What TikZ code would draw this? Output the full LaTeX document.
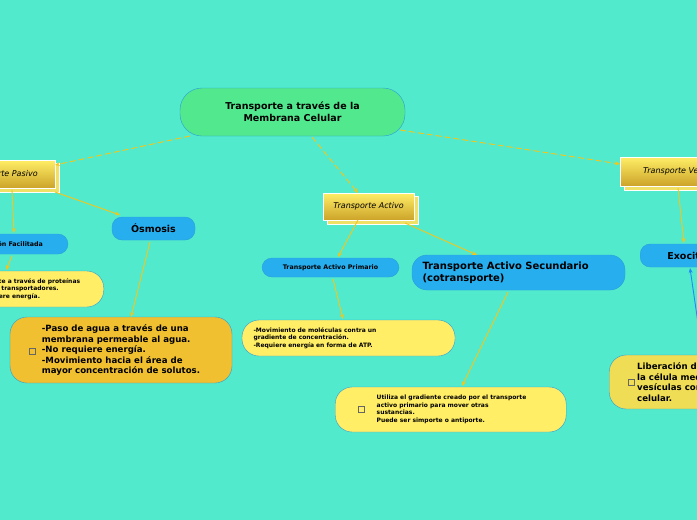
\documentclass[tikz,border=0pt]{standalone}
\usepackage{fontspec}
\setmainfont{DejaVu Sans}
\usetikzlibrary{arrows.meta}
\definecolor{bg}{HTML}{52EACD}
\definecolor{ttl}{HTML}{52E88E}
\definecolor{pill}{HTML}{27AEEF}
\definecolor{pale}{HTML}{FFEE66}
\definecolor{gold}{HTML}{F0C030}
\definecolor{lgold}{HTML}{EEDD55}
\definecolor{edg}{HTML}{F5C518}
\definecolor{bord}{HTML}{2A9FD8}
\tikzset{
 pillbox/.style={draw=bord,fill=pill,rounded corners=10pt,font=\bfseries,inner sep=0pt},
 notebox/.style={draw=bord,rounded corners=17pt,font=\bfseries,inner sep=0pt},
 topicbox/.style={draw=white,line width=1pt,top color=pale,bottom color=gold!85!black,font=\itshape\fontsize{8}{10}\selectfont,inner sep=0pt},
 shadowbox/.style={draw=white,fill=lgold!90!white,line width=1pt},
 link/.style={draw=edg,line width=0.9pt,-{Stealth[length=5pt,width=4pt]}},
 dlink/.style={link,dash pattern=on 6pt off 3pt},
 chk/.style={draw=black!60,line width=0.6pt,minimum size=6pt,inner sep=0pt}
}
\begin{document}
\begin{tikzpicture}[x=1pt,y=-1pt]
\clip (0,0) rectangle (697,520);
\fill[bg] (0,0) rectangle (697,520);
% title
\node[draw=bord,fill=ttl,rounded corners=22pt,minimum width=225pt,minimum height=48pt,font=\bfseries\fontsize{9.5}{11.5}\selectfont,align=center] (t) at (292.5,112) {Transporte a través de la\\Membrana Celular};
% topics
\fill[shadowbox] (-47,163) rectangle (59,192);
\node[topicbox,minimum width=106pt,minimum height=28pt] (pas) at (2,174) {Transporte Pasivo};
\fill[shadowbox] (327,196) rectangle (418,224);
\node[topicbox,minimum width=91pt,minimum height=27pt] (act) at (368.5,206.5) {Transporte Activo};
\fill[shadowbox] (624,160) rectangle (740,190);
\node[topicbox,minimum width=116pt,minimum height=29pt,anchor=west] (ves) at (620,171.5) {\hspace{11pt}Transporte Vesicular\hspace*{\fill}};
% pills
\node[pillbox,minimum width=83pt,minimum height=23pt,font=\bfseries\fontsize{9.5}{11}\selectfont] (osm) at (153.5,228.5) {Ósmosis};
\node[pillbox,minimum width=116pt,minimum height=20pt,font=\bfseries\fontsize{6.3}{7}\selectfont] (fac) at (10,244) {Difusión Facilitada};
\node[pillbox,minimum width=137pt,minimum height=19pt,font=\bfseries\fontsize{6.3}{7}\selectfont] (pri) at (330.5,267.5) {Transporte Activo Primario};
\node[pillbox,minimum width=213pt,minimum height=35pt,rounded corners=15pt,font=\bfseries\fontsize{10}{12}\selectfont,align=left,text width=192pt] (sec) at (518.5,272.5) {Transporte Activo Secundario\\(cotransporte)};
\node[pillbox,minimum width=90pt,minimum height=23pt,font=\bfseries\fontsize{9.5}{11}\selectfont,anchor=west] (exo) at (640,255.5) {\hspace{18pt}Exocitosis\hspace*{\fill}};
% notes
\node[notebox,fill=pale,minimum width=160pt,minimum height=36pt,font=\bfseries\fontsize{6}{7.5}\selectfont,align=left,anchor=east] (fn) at (104,289) {-Transporte a través de proteínas\\canales o transportadores.\\-No requiere energía.\hspace{60pt}};
\node[notebox,fill=gold,minimum width=222pt,minimum height=66pt,font=\bfseries\fontsize{8.6}{10.5}\selectfont,align=left] (on) at (121,350) {-Paso de agua a través de una\\membrana permeable al agua.\\-No requiere energía.\\-Movimiento hacia el área de\\mayor concentración de solutos.};
\node[chk] at (32,351) {};
\node[notebox,fill=pale,minimum width=213pt,minimum height=36pt,font=\bfseries\fontsize{6}{7.5}\selectfont,align=left,text width=190pt] (pn) at (348.5,338) {-Movimiento de moléculas contra un\\gradiente de concentración.\\-Requiere energía en forma de ATP.};
\node[notebox,fill=pale,minimum width=231pt,minimum height=45pt,font=\bfseries\fontsize{6}{7.5}\selectfont,align=left,anchor=west] (sn) at (335,409.5) {\hspace{32pt}\parbox{180pt}{Utiliza el gradiente creado por el transporte\\activo primario para mover otras\\sustancias.\\Puede ser simporte o antiporte.}};
\node[chk] at (361,409) {};
\node[notebox,fill=lgold,minimum width=140pt,minimum height=54pt,font=\bfseries\fontsize{8.6}{10.5}\selectfont,align=left,anchor=west] (en) at (609,382) {\hspace{28pt}Liberación de sustancias fuera de\\\hspace{28pt}la célula mediante la fusión de\\\hspace{28pt}vesículas con la membrana\\\hspace{28pt}celular.};
\node[chk] at (631,382) {};
% links
\draw[dlink] (190,136) -- (55,165);
\draw[dlink] (312,137) -- (358,193);
\draw[dlink] (400,130) -- (620,164);
\draw[link] (12,190) -- (14,233);
\draw[link] (55,192) -- (120,215);
\draw[link] (12,256) -- (6,270);
\draw[link] (150,242) -- (131,317);
\draw[link] (358,220) -- (338,257);
\draw[link] (405,223) -- (477,255);
\draw[link] (333,279) -- (343,319);
\draw[link] (508,292) -- (462,386);
\draw[link] (678,188) -- (684,243);
\coordinate (off) at (699,330);
\draw[draw=pill!80!blue,line width=0.9pt,-{Stealth[length=5pt,width=4pt]}] (off) -- (690,268);
\end{tikzpicture}
\end{document}
